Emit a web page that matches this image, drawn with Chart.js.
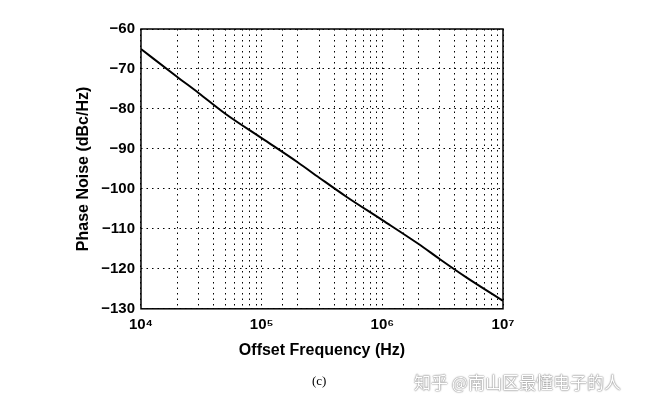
<!DOCTYPE html>
<html><head><meta charset="utf-8">
<script src="https://cdn.jsdelivr.net/npm/chart.js@4/dist/chart.umd.min.js"></script>
<style>
html,body{margin:0;padding:0;background:#fff;}
#wrap{position:relative;width:659px;height:411px;}
#cap{position:absolute;left:312px;top:373px;font:13px "Liberation Serif",serif;}
#wm{position:absolute;left:414px;top:369px;font:17px "Noto Sans CJK SC",sans-serif;color:#fff;text-shadow:0 0 2px #888,0 0 1px #555;}
</style></head><body>
<div id="wrap"><canvas id="c" width="659" height="411"></canvas>
<div id="cap">(c)</div><div id="wm">知乎 @南山区最懂电子的人</div></div>
<script>
const freqs=[1e4,2e4,3e4,5e4,1e5,2e5,3e5,5e5,1e6,2e6,3e6,5e6,1e7];
const noise=[-65,-72.0,-76,-81.2,-87.3,-93.4,-97.2,-101.9,-107.8,-113.8,-117.6,-122.2,-128];
const yTicks=[-60,-70,-80,-90,-100,-110,-120,-130];
const sup={4:'⁴',5:'⁵',6:'⁶',7:'⁷'};
const font={family:'"Liberation Sans",Arial,sans-serif',size:15,weight:'bold'};
const boxPlugin={id:'box',afterDraw(ch){const a=ch.chartArea,x=ch.ctx;x.save();x.strokeStyle='#000';x.lineWidth=1.5;x.strokeRect(a.left,a.top,a.right-a.left,a.bottom-a.top);x.restore();}};
new Chart(document.getElementById('c'),{type:'line',
data:{datasets:[{data:freqs.map((f,i)=>({x:f,y:noise[i]})),borderColor:'#000',borderWidth:2,pointRadius:0,cubicInterpolationMode:'monotone'}]},
options:{responsive:false,animation:false,
layout:{padding:{left:70,right:156,top:29,bottom:47}},
plugins:{legend:{display:false},tooltip:{enabled:false}},
scales:{
x:{type:'logarithmic',min:1e4,max:1e7,
 grid:{color:'#000',lineWidth:1,drawTicks:false},border:{display:false,dash:[1.5,4]},
 ticks:{color:'#000',font,padding:7,maxRotation:0,autoSkip:false,callback:v=>{const e=Math.log10(v);return Math.abs(e-Math.round(e))<1e-9?'10'+sup[Math.round(e)]:'';}},
 title:{display:true,text:'Offset Frequency (Hz)',color:'#000',font:{...font,size:16},padding:{top:0}}},
y:{min:-130,max:-60,afterBuildTicks:s=>{s.ticks=yTicks.map(v=>({value:v}));},
 grid:{color:'#000',lineWidth:1,drawTicks:false},border:{display:false,dash:[1.5,4]},
 ticks:{color:'#000',font,padding:6,callback:v=>v<0?'−'+Math.abs(v):v},
 title:{display:true,text:'Phase Noise (dBc/Hz)',color:'#000',font:{...font,size:16},padding:{bottom:2}}}}},
plugins:[boxPlugin]});
</script></body></html>
